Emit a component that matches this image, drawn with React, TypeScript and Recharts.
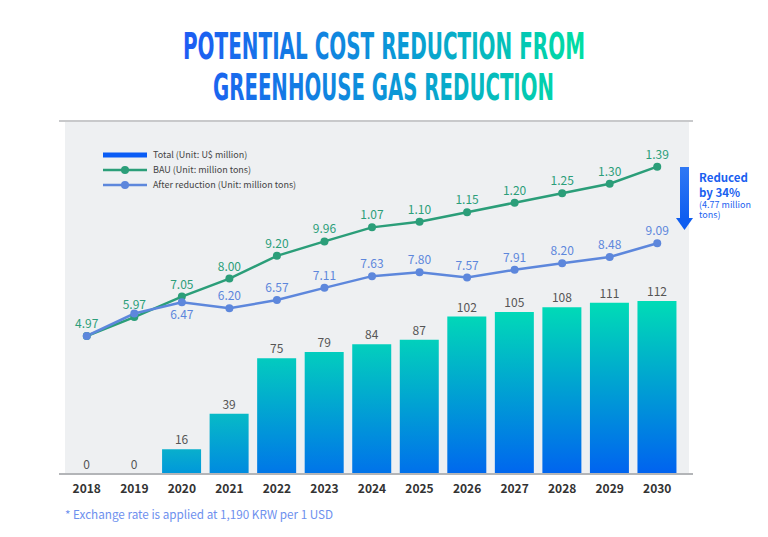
import { ComposedChart, Bar, Line, XAxis, YAxis, Cell, LabelList, Legend } from 'recharts'

const years = ['2018', '2019', '2020', '2021', '2022', '2023', '2024', '2025', '2026', '2027', '2028', '2029', '2030']
const totalCost = [0, 0, 16, 39, 75, 79, 84, 87, 102, 105, 108, 111, 112]
const bauEmissions = [4.97, 5.97, 7.05, 8.0, 9.2, 9.96, 10.7, 11.0, 11.5, 12.0, 12.5, 13.0, 13.9]
const afterEmissions = [4.97, 5.97, 6.47, 6.2, 6.57, 7.11, 7.63, 7.8, 7.57, 7.91, 8.2, 8.48, 9.09]
const seriesNames = ['Total (Unit: U$ million)', 'BAU (Unit: million tons)', 'After reduction (Unit: million tons)']

const data = years.map((year, i) => ({
    year,
    total: totalCost[i],
    bau: bauEmissions[i],
    after: afterEmissions[i],
}))

const FONT = "'Noto Sans CJK KR', 'Noto Sans', sans-serif"
const BAU_COLOR = '#2b9e79'
const AFTER_COLOR = '#5d87dc'
const MAX_COST = Math.max(...totalCost)

// blend two hex colours, t in [0, 1]
function mix(a: string, b: string, t: number) {
    const pa = [1, 3, 5].map((k) => parseInt(a.slice(k, k + 2), 16))
    const pb = [1, 3, 5].map((k) => parseInt(b.slice(k, k + 2), 16))
    return '#' + pa.map((v, k) => Math.round(v + (pb[k] - v) * t).toString(16).padStart(2, '0')).join('')
}

// BAU tons of 10 and above are printed in tens (10.7 -> 1.07)
const bauFormat = (v: any) => {
    const n = Number(v)
    return (n >= 10 ? n / 10 : n).toFixed(2)
}

const renderAfterLabel = (props: any) => {
    const { x, y, value, index } = props
    if (index < 2) return null
    const below = index === 2
    return (
        <text x={x} y={below ? y + 17 : y - 8} textAnchor="middle" fill={AFTER_COLOR} fontSize={12} fontFamily={FONT}>
            {Number(value).toFixed(2)}
        </text>
    )
}

const renderLegend = (props: any) => {
    const payload = [...(props.payload || [])].sort(
        (a: any, b: any) => seriesNames.indexOf(a.value) - seriesNames.indexOf(b.value)
    )
    return (
        <div style={{ fontFamily: FONT, fontSize: 9, color: '#444' }}>
            {payload.map((entry: any) => (
                <div key={entry.value} style={{ display: 'flex', alignItems: 'center', height: 15 }}>
                    <svg width={50} height={10}>
                        {entry.type === 'rect' ? (
                            <rect x={0} y={2.5} width={44} height={5} fill={entry.color} />
                        ) : (
                            <g>
                                <line x1={0} y1={5} x2={44} y2={5} stroke={entry.color} strokeWidth={2.5} />
                                <circle cx={22} cy={5} r={4} fill={entry.color} />
                            </g>
                        )}
                    </svg>
                    <span>{entry.value}</span>
                </div>
            ))}
        </div>
    )
}

const noteLine = (top: number, size: number, weight: number) => ({
    position: 'absolute' as const,
    left: 0,
    top,
    fontSize: size,
    fontWeight: weight,
    lineHeight: 1,
    whiteSpace: 'nowrap' as const,
})

export default function App() {
    return (
        <div style={{ position: 'absolute', left: 0, top: 0, width: 768, height: 537, background: '#fff', overflow: 'hidden' }}>
            {/* Title */}
            <svg width={768} height={115} style={{ position: 'absolute', left: 0, top: 0 }}>
                <defs>
                    <linearGradient id="titleGrad" gradientUnits="userSpaceOnUse" x1={183} y1={0} x2={585} y2={0}>
                        <stop offset="0%" stopColor="#1d5cf3" />
                        <stop offset="55%" stopColor="#0a9ad6" />
                        <stop offset="100%" stopColor="#00dfa2" />
                    </linearGradient>
                </defs>
                <text x={183} y={59} textLength={402} lengthAdjust="spacingAndGlyphs" fontSize={37} fontWeight={700}
                    fontFamily="'Liberation Sans Narrow', 'DejaVu Sans Condensed', sans-serif" fill="url(#titleGrad)">
                    POTENTIAL COST REDUCTION FROM
                </text>
                <text x={213} y={100} textLength={341} lengthAdjust="spacingAndGlyphs" fontSize={37} fontWeight={700}
                    fontFamily="'Liberation Sans Narrow', 'DejaVu Sans Condensed', sans-serif" fill="url(#titleGrad)">
                    GREENHOUSE GAS REDUCTION
                </text>
            </svg>

            {/* Panel background */}
            <div style={{ position: 'absolute', left: 65, top: 122, width: 624, height: 352, background: '#eef0f2' }} />
            <div style={{ position: 'absolute', left: 59, top: 120, width: 634, height: 2, background: '#c8c9cb' }} />

            <div style={{ position: 'absolute', left: 0, top: 0 }}>
                <ComposedChart width={768} height={537} data={data} margin={{ top: 122, right: 87, bottom: 33, left: 63 }}>
                    <defs>
                        {totalCost.map((v, i) => {
                            const t = v / MAX_COST
                            return (
                                <linearGradient key={i} id={`bar${i}`} x1="0" y1="0" x2="0" y2="1">
                                    <stop offset="0%" stopColor={mix('#0aa8d0', '#00dcb6', t)} />
                                    <stop offset="100%" stopColor={mix('#00a0d8', '#0062f0', t)} />
                                </linearGradient>
                            )
                        })}
                    </defs>
                    <XAxis dataKey="year" axisLine={false} tickLine={false} tickSize={0} tickMargin={10} height={30}
                        tick={{ fill: '#333', fontSize: 12, fontWeight: 700, fontFamily: FONT }} interval={0} />
                    <YAxis yAxisId="cost" hide domain={[0, 228]} allowDataOverflow />
                    <YAxis yAxisId="bau" hide domain={[-2.308, 16.257]} allowDataOverflow />
                    <YAxis yAxisId="after" hide domain={[-1.163, 14.481]} allowDataOverflow />
                    <Legend content={renderLegend} layout="horizontal" verticalAlign="middle" align="center"
                        wrapperStyle={{ left: 103, top: 147, width: 260 }} />
                    <Bar yAxisId="cost" dataKey="total" name={seriesNames[0]} fill="#0a5cf5" barSize={39}
                        minPointSize={0.01} legendType="rect" isAnimationActive={false}>
                        {data.map((_, i) => (
                            <Cell key={i} fill={`url(#bar${i})`} />
                        ))}
                        <LabelList dataKey="total" position="top" offset={5} fill="#555" fontSize={12} fontFamily={FONT} />
                    </Bar>
                    <Line yAxisId="bau" dataKey="bau" name={seriesNames[1]} stroke={BAU_COLOR} strokeWidth={2.5}
                        dot={{ r: 4, fill: BAU_COLOR, stroke: 'none' }} legendType="line" isAnimationActive={false}>
                        <LabelList dataKey="bau" position="top" offset={8} fill={BAU_COLOR} fontSize={12} fontFamily={FONT}
                            formatter={bauFormat} />
                    </Line>
                    <Line yAxisId="after" dataKey="after" name={seriesNames[2]} stroke={AFTER_COLOR}
                        strokeWidth={2.5} dot={{ r: 4, fill: AFTER_COLOR, stroke: 'none' }} legendType="line"
                        isAnimationActive={false}>
                        <LabelList dataKey="after" content={renderAfterLabel} />
                    </Line>
                </ComposedChart>
            </div>

            {/* Baseline */}
            <div style={{ position: 'absolute', left: 59, top: 473, width: 634, height: 2, background: '#b3b5b8' }} />

            {/* Reduction note */}
            <svg width={30} height={80} style={{ position: 'absolute', left: 670, top: 160 }}>
                <defs>
                    <linearGradient id="arrowGrad" x1="0" y1="0" x2="0" y2="1">
                        <stop offset="0%" stopColor="#2f78f4" />
                        <stop offset="100%" stopColor="#0f5ef0" />
                    </linearGradient>
                </defs>
                <rect x={10} y={7} width={9} height={52} fill="url(#arrowGrad)" />
                <polygon points="6,58 23,58 14.5,70" fill="#0f5ef0" />
            </svg>
            <div style={{ position: 'absolute', left: 699, top: 172, fontFamily: FONT, color: '#1a5ff0' }}>
                <div style={noteLine(0, 11.5, 700)}>Reduced</div>
                <div style={noteLine(14.5, 11.5, 700)}>by 34%</div>
                <div style={noteLine(27.5, 9, 400)}>(4.77 million</div>
                <div style={noteLine(38, 9, 400)}>tons)</div>
            </div>

            {/* Footnote */}
            <div style={{ position: 'absolute', left: 65, top: 505, fontFamily: FONT, fontSize: 11.7, color: '#6d90ee' }}>
                * Exchange rate is applied at 1,190 KRW per 1 USD
            </div>
        </div>
    )
}
